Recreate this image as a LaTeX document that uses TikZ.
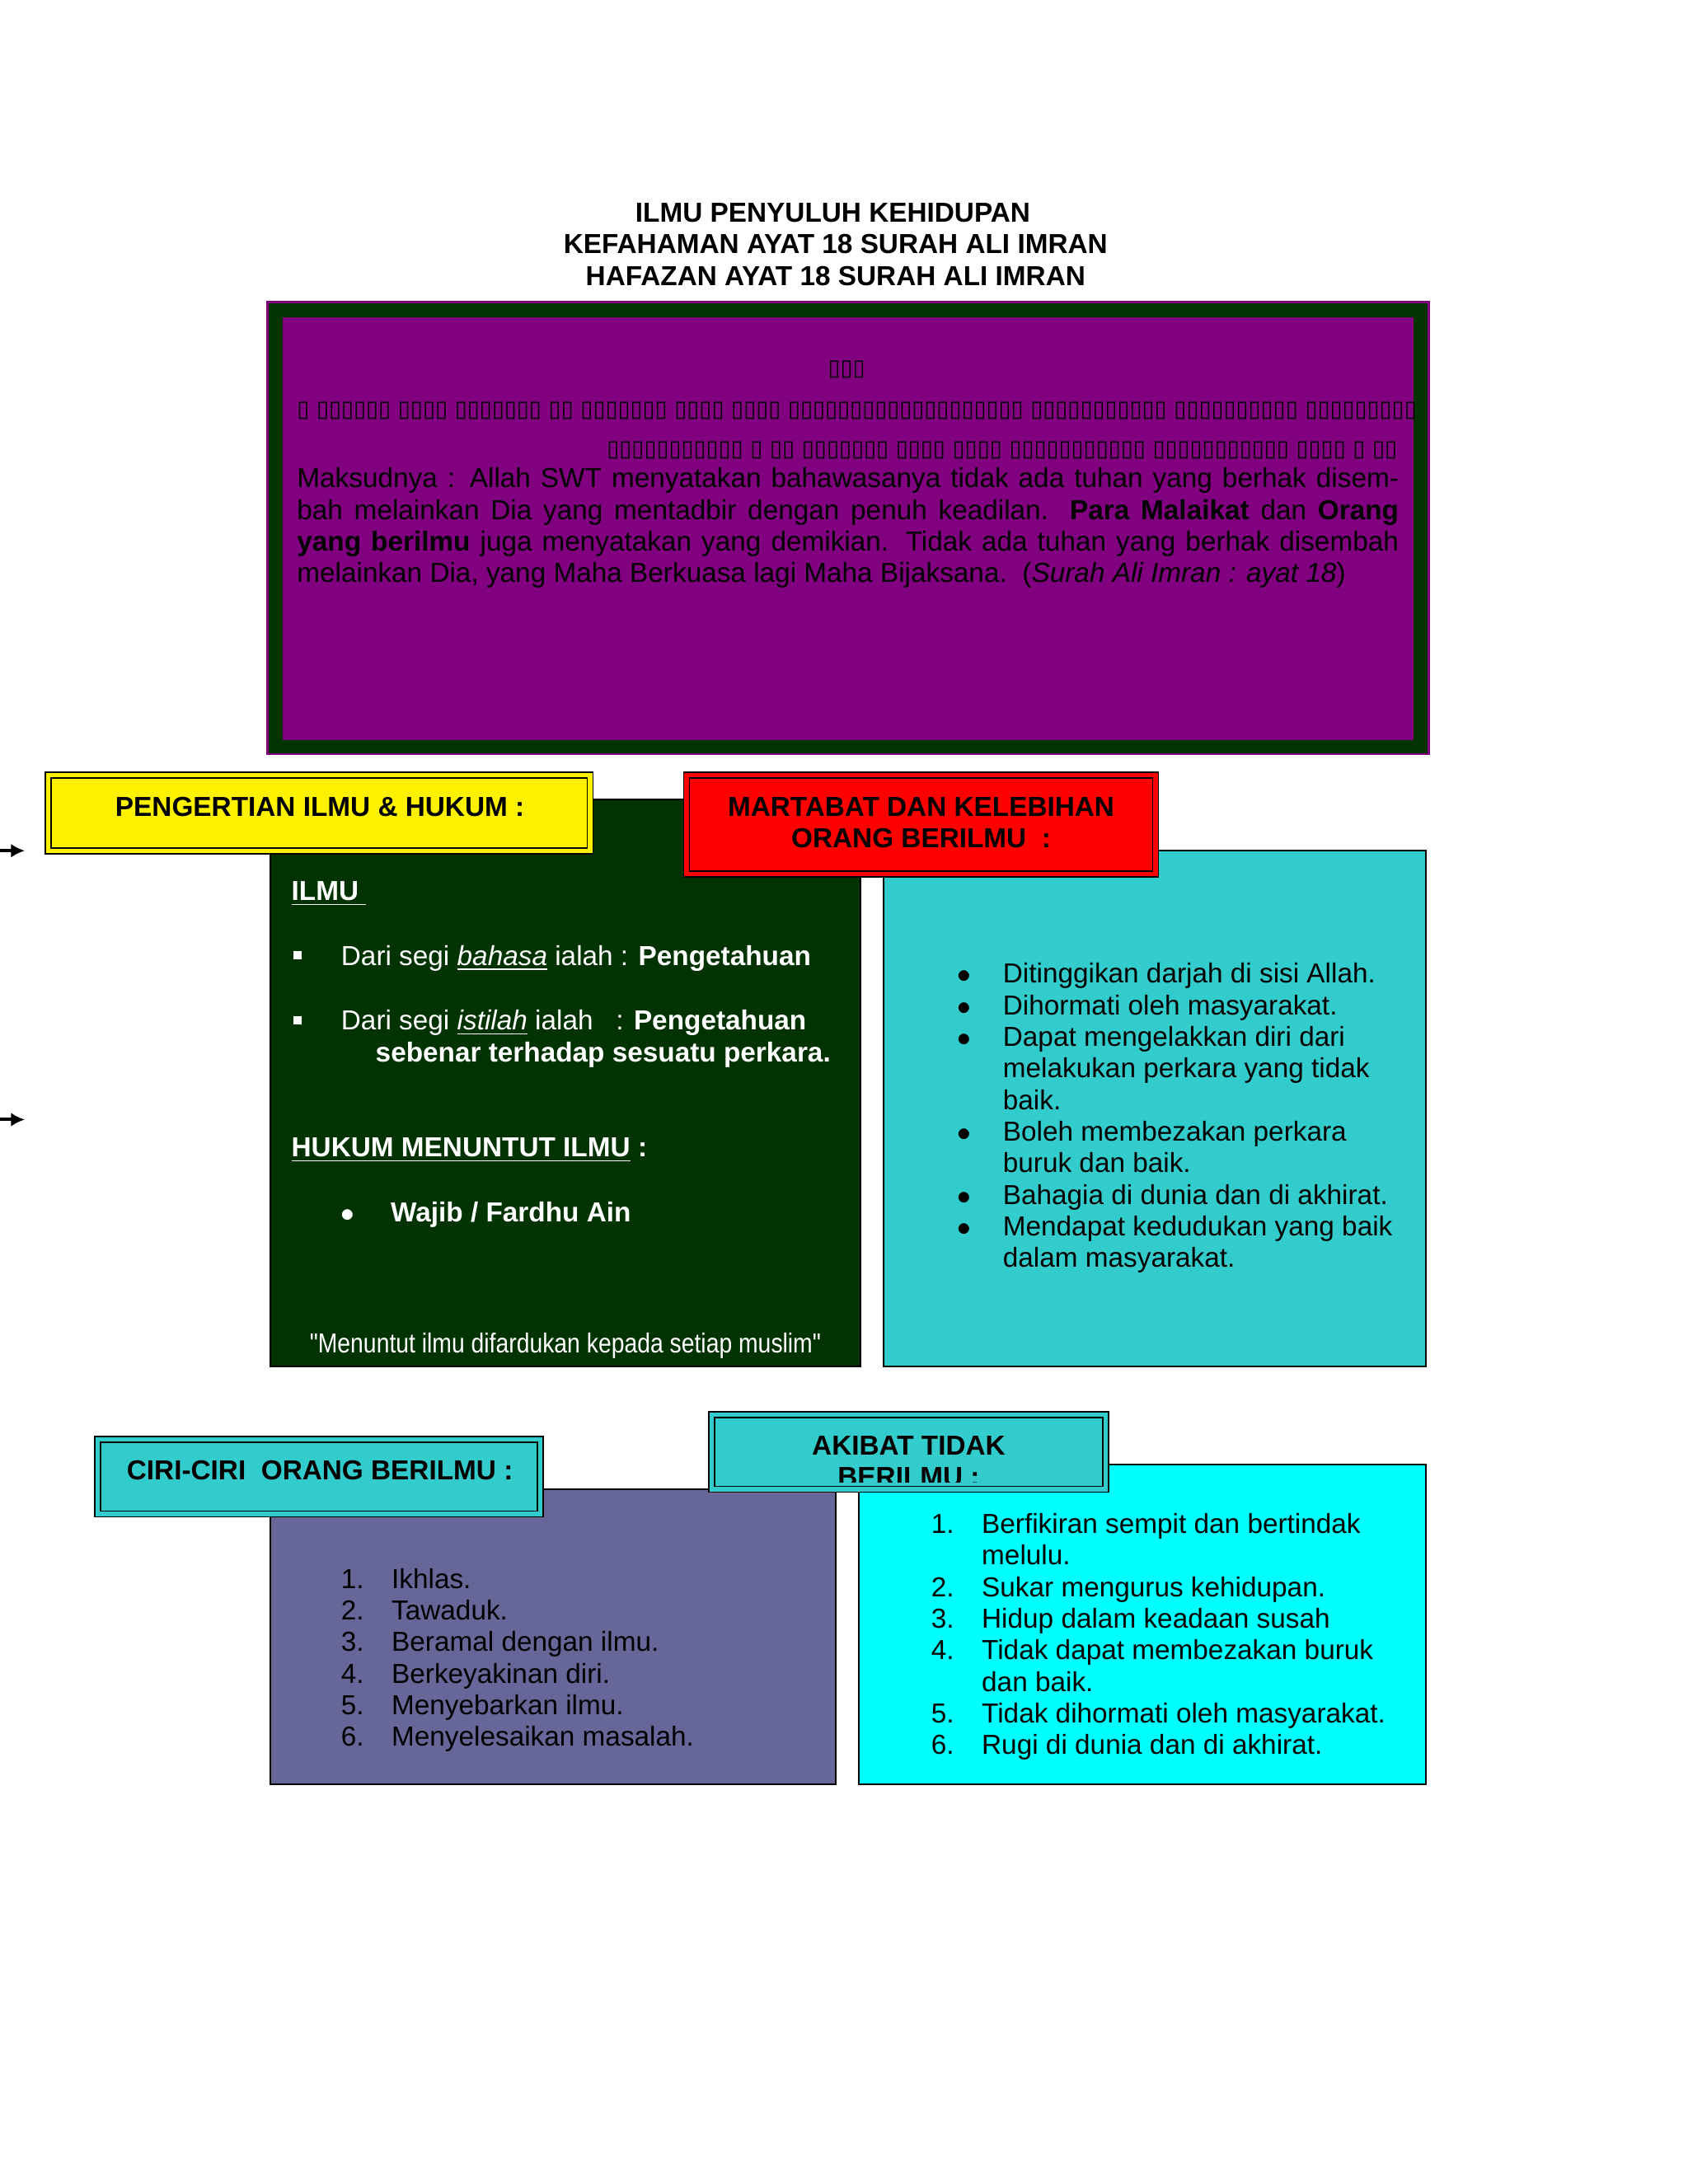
\documentclass[tikz,border=0pt]{standalone}
\usepackage{fontspec}
\setmainfont{Liberation Sans}
\newfontfamily\boxfont{DejaVu Sans}
\usetikzlibrary{positioning,arrows.meta}
\definecolor{ungu}{HTML}{800080}
\definecolor{hijau}{HTML}{003300}
\definecolor{teal}{HTML}{33CCCC}
\definecolor{kelabu}{HTML}{666699}
\definecolor{biru}{HTML}{00FFFF}
\tikzset{
  panel/.style={draw=black, line width=0.6pt},
  label box/.style={draw=black, line width=0.5pt, double=#1, double distance=1.6pt, fill=#1},
  txt/.style={anchor=base west, inner sep=0pt, font=\fontsize{10}{11.5}\selectfont},
  ctxt/.style={anchor=base, inner sep=0pt, font=\fontsize{10}{11.5}\selectfont\bfseries},
  kotak/.style={fill=white, inner sep=0pt, minimum size=3pt, anchor=center}
}
\newcommand{\tofu}[1]{{\boxfont\fontsize{8.2}{9}\selectfont #1}}
\begin{document}
\begin{tikzpicture}[x=0.5bp, y=-0.5bp]
\useasboundingbox (0,0) rectangle (1224,1584);
% title
\node[ctxt] (t1) at (604,161) {ILMU PENYULUH KEHIDUPAN};
\node[ctxt] (t2) at (606,184) {KEFAHAMAN AYAT 18 SURAH ALI IMRAN};
\node[ctxt] (t3) at (606,207) {HAFAZAN AYAT 18 SURAH ALI IMRAN};
% ayat box
\draw[draw=ungu, fill=hijau, line width=0.8pt] (194,219) rectangle (1036,547);
\fill[ungu] (205,230) rectangle (1025,537);
\node[ctxt, font=\normalfont] (a1) at (614,272) {\tofu{▯▯▯}};
\node[txt] (a2) at (215,302) {\tofu{▯ ▯▯▯▯▯▯ ▯▯▯▯ ▯▯▯▯▯▯▯ ▯▯ ▯▯▯▯▯▯▯ ▯▯▯▯ ▯▯▯▯ ▯▯▯▯▯▯▯▯▯▯▯▯▯▯▯▯▯▯▯ ▯▯▯▯▯▯▯▯▯▯▯ ▯▯▯▯▯▯▯▯▯▯ ▯▯▯▯▯▯▯▯▯}};
\node[txt, anchor=base east] (a3) at (1014,331) {\tofu{▯▯▯▯▯▯▯▯▯▯▯ ▯ ▯▯ ▯▯▯▯▯▯▯ ▯▯▯▯ ▯▯▯▯ ▯▯▯▯▯▯▯▯▯▯▯ ▯▯▯▯▯▯▯▯▯▯▯ ▯▯▯▯ ▯ ▯▯}};
\node[txt, anchor=north west, text width=399.5bp, align=justify] (makna) at (215,339)
{\hyphenpenalty=10000 Maksudnya : Allah SWT menyatakan bahawasanya tidak ada tuhan yang berhak disembah melainkan Dia yang mentadbir dengan penuh keadilan. \textbf{Para Malaikat} dan \textbf{Orang yang berilmu} juga menyatakan yang demikian. Tidak ada tuhan yang berhak disembah melainkan Dia, yang Maha Berkuasa lagi Maha Bijaksana.\ \ (\textit{Surah Ali Imran : ayat 18})};
% side arrows
\coordinate (p1) at (0,617); \coordinate (q1) at (18,617);
\coordinate (p2) at (0,812); \coordinate (q2) at (18,812);
\draw[-{Latex[length=5pt,width=5pt]}, line width=1.2pt] (p1) -- (q1);
\draw[-{Latex[length=5pt,width=5pt]}, line width=1.2pt] (p2) -- (q2);
% pengertian
\draw[panel, fill=hijau] (196,580) rectangle (624,991);
\node[kotak] (b1) at (216,693) {};
\node[kotak] (b2) at (216,740) {};
\begin{scope}[every node/.append style={text=white}]
\node[txt, font=\fontsize{10}{11.5}\selectfont\bfseries] (ilmu) at (211,653) {\underline{ILMU\ }};
\node[txt] (s1) at (247,700) {Dari segi \underline{\textit{bahasa}} ialah : \textbf{Pengetahuan}};
\node[txt] (s2) at (247,747) {Dari segi \underline{\textit{istilah}} ialah\ \ \ : \textbf{Pengetahuan}};
\node[txt, font=\fontsize{10}{11.5}\selectfont\bfseries] (s3) at (272,770) {sebenar terhadap sesuatu perkara.};
\node[txt, font=\fontsize{10}{11.5}\selectfont\bfseries] (hukum) at (211,839) {\underline{HUKUM MENUNTUT ILMU} :};
\node[txt] (b3) at (247,886) {$\bullet$};
\node[txt, font=\fontsize{10}{11.5}\selectfont\bfseries] (wajib) at (283,886) {Wajib / Fardhu Ain};
\node[ctxt, font=\fontsize{10}{11.5}\selectfont, xscale=0.85] (hadis) at (410,981) {\textquotedbl Menuntut ilmu difardukan kepada setiap muslim\textquotedbl};
\end{scope}
\draw[label box=yellow] (35,562) rectangle (428,617);
\node[ctxt] (lbl1) at (232,592) {PENGERTIAN ILMU \& HUKUM :};
% martabat
\draw[panel, fill=teal] (641,617) rectangle (1034,991);
\draw[label box=red] (498,562) rectangle (838,634);
\node[ctxt] (lbl2) at (668,592) {MARTABAT DAN KELEBIHAN};
\node[ctxt] (lbl2b) at (668,615) {ORANG BERILMU\ \ :};
\node[txt] (martabat) at (694,713) {\begin{tabular}[t]{@{}l@{\hspace{11.5bp}}l@{}}
$\bullet$ & Ditinggikan darjah di sisi Allah.\\
$\bullet$ & Dihormati oleh masyarakat.\\
$\bullet$ & Dapat mengelakkan diri dari\\
 & melakukan perkara yang tidak\\
 & baik.\\
$\bullet$ & Boleh membezakan perkara\\
 & buruk dan baik.\\
$\bullet$ & Bahagia di dunia dan di akhirat.\\
$\bullet$ & Mendapat kedudukan yang baik\\
 & dalam masyarakat.
\end{tabular}};
% ciri-ciri
\draw[panel, fill=kelabu] (196,1080) rectangle (606,1294);
\draw[label box=teal] (71,1044) rectangle (392,1098);
\node[ctxt] (lbl3) at (232,1073) {CIRI-CIRI\ \ ORANG BERILMU :};
\node[txt] (ciri) at (247,1152) {\begin{tabular}[t]{@{}l@{\hspace{10bp}}l@{}}
1. & Ikhlas.\\
2. & Tawaduk.\\
3. & Beramal dengan ilmu.\\
4. & Berkeyakinan diri.\\
5. & Menyebarkan ilmu.\\
6. & Menyelesaikan masalah.
\end{tabular}};
% akibat
\draw[panel, fill=biru] (623,1062) rectangle (1034,1294);
\draw[label box=teal] (516,1026) rectangle (802,1080);
\begin{scope}
\clip (520,1030) rectangle (798,1075);
\node[ctxt] (lbl4) at (659,1055) {AKIBAT TIDAK};
\node[ctxt] (lbl4b) at (659,1078) {BERILMU :};
\end{scope}
\node[txt] (akibat) at (675,1112) {\begin{tabular}[t]{@{}l@{\hspace{10bp}}l@{}}
1. & Berfikiran sempit dan bertindak\\
 & melulu.\\
2. & Sukar mengurus kehidupan.\\
3. & Hidup dalam keadaan susah\\
4. & Tidak dapat membezakan buruk\\
 & dan baik.\\
5. & Tidak dihormati oleh masyarakat.\\
6. & Rugi di dunia dan di akhirat.
\end{tabular}};
\end{tikzpicture}
\end{document}
